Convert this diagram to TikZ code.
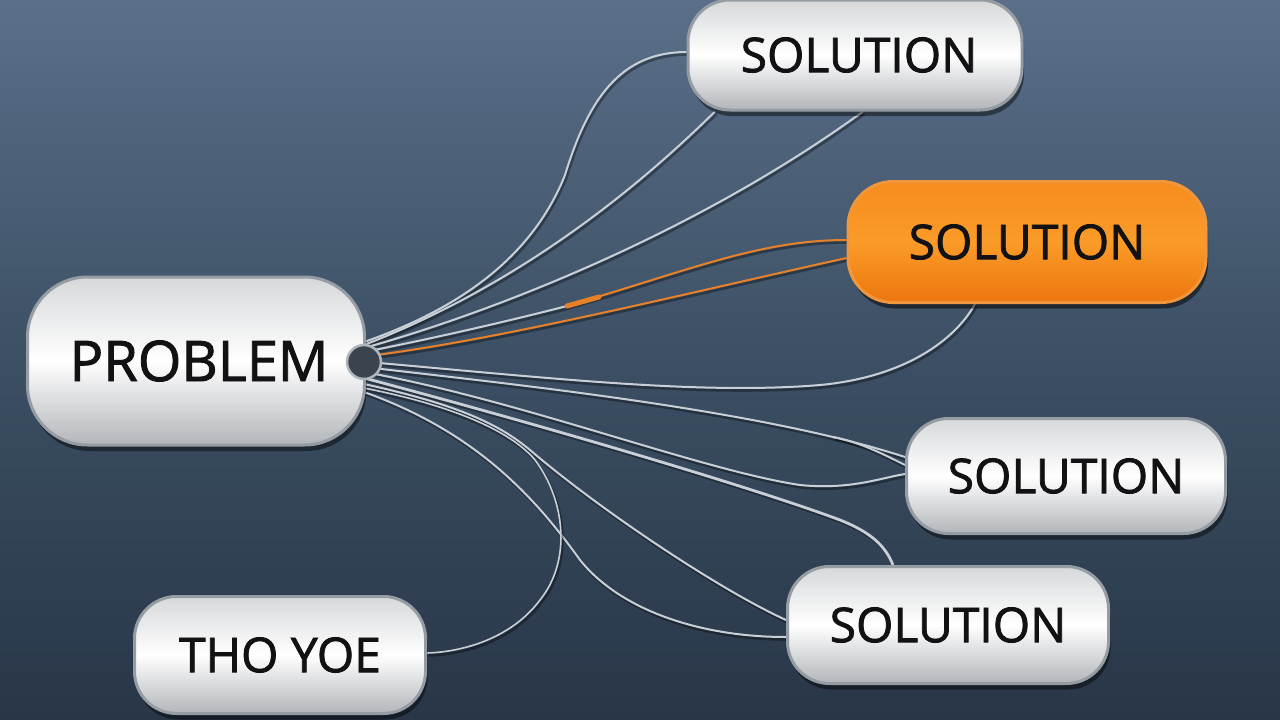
\documentclass[tikz,border=0pt]{standalone}
\usepackage{fontspec}
\setmainfont{Open Sans}[BoldFont=Open Sans, BoldFeatures={FakeBold=1.6}]
\usetikzlibrary{shadows,calc}
\definecolor{bgtop}{RGB}{90,112,137}
\definecolor{bgmid}{RGB}{60,79,100}
\definecolor{bgbot}{RGB}{40,54,71}
\definecolor{wirec}{RGB}{200,207,215}
\definecolor{orwirec}{RGB}{232,128,40}
\definecolor{silvtop}{RGB}{214,216,218}
\definecolor{silvbot}{RGB}{178,181,185}
\definecolor{silvedge}{RGB}{150,156,163}
\definecolor{ortop}{RGB}{246,140,30}
\definecolor{ormid}{RGB}{250,155,40}
\definecolor{orbot}{RGB}{236,118,14}
\definecolor{oredge}{RGB}{240,150,60}
\definecolor{inkc}{RGB}{18,18,20}
\definecolor{dotfill}{RGB}{58,67,78}
\definecolor{dotedge}{RGB}{176,182,188}
\pgfdeclarelayer{back}
\pgfdeclarelayer{wires}
\pgfsetlayers{back,wires,main}
\begin{document}
\begin{tikzpicture}[x=1pt,y=-1pt,
  silvertag/.style={draw=silvedge, line width=3pt, top color=silvtop, bottom color=silvbot, middle color=white,
    text=inkc, inner sep=0pt, rounded corners=#1,
    drop shadow={shadow xshift=2pt, shadow yshift=-6pt, opacity=0.45, fill=black}},
  orangetag/.style={draw=oredge, line width=3pt, top color=ortop, bottom color=orbot, middle color=ormid,
    text=inkc, inner sep=0pt, rounded corners=#1,
    drop shadow={shadow xshift=2pt, shadow yshift=-6pt, opacity=0.5, fill=black}},
  bigfont/.style={font=\fontsize{56}{56}\selectfont\bfseries},
  midfont/.style={font=\fontsize{48}{48}\selectfont\bfseries},
  wire/.style={draw=wirec, line width=2pt,
    preaction={draw=black, opacity=0.35, line width=2.6pt, transform canvas={xshift=1.5pt, yshift=-2.5pt}}},
  orwire/.style={draw=orwirec, line width=2pt,
    preaction={draw=black, opacity=0.35, line width=2.6pt, transform canvas={xshift=1.5pt, yshift=-2.5pt}}},
  dotnode/.style={circle, fill=dotfill, draw=dotedge, line width=2.5pt, minimum size=34pt, inner sep=0pt}
]
\useasboundingbox (0,0) rectangle (1280,720);
\begin{pgfonlayer}{back}
  \shade[top color=bgtop, bottom color=bgbot, middle color=bgmid] (0,0) rectangle (1280,720);
\end{pgfonlayer}

% nodes
\node[silvertag=60pt, bigfont, minimum width=337pt, minimum height=168pt] (prob) at (196,361) {\hspace*{6pt}PROBLEM};
\node[silvertag=42pt, midfont, minimum width=334pt, minimum height=110pt] (s1) at (855,55) {\hspace*{8pt}SOLUTION};
\node[orangetag=45pt, midfont, minimum width=358pt, minimum height=121pt] (s2) at (1027,242) {SOLUTION};
\node[silvertag=42pt, midfont, minimum width=319pt, minimum height=115pt] (s3) at (1066,476) {SOLUTION};
\node[silvertag=42pt, midfont, minimum width=321pt, minimum height=117pt] (s4) at (948,625) {SOLUTION};
\node[silvertag=42pt, midfont, minimum width=291pt, minimum height=117pt] (tho) at (280,655) {THO YOE};
\node[dotnode] (dot) at (364,362) {};

\coordinate (osplice) at (567,306);
\coordinate (stray) at (833,437);

\begin{pgfonlayer}{wires}
  % to top solution
  \draw[wire] ([yshift=20pt]dot.center) .. controls (470,305) and (535,250) .. (565,175)
      .. controls (588,100) and (620,52) .. ([yshift=3pt]s1.west);
  \draw[wire] ([yshift=17pt]dot.center) .. controls (480,300) and (600,225) .. ([xshift=-140pt]s1.south);
  \draw[wire] ([yshift=14pt]dot.center) .. controls (500,310) and (700,230) .. ([xshift=8pt]s1.south);
  % to orange solution
  \draw[wire] ([yshift=10pt]dot.center) .. controls (450,335) and (520,318) .. (osplice);
  \draw[orwire] (osplice) .. controls (690,270) and (760,240) .. ([yshift=2pt]s2.west);
  \draw[draw=orwirec, line width=5pt, line cap=round] (osplice) -- ++(32,-9);
  \draw[orwire] ([xshift=4pt,yshift=6pt]dot.center) .. controls (500,340) and (700,290) .. ([yshift=-16pt]s2.west);
  \draw[wire] ([xshift=4pt]dot.center) .. controls (550,378) and (700,395) .. (820,385)
      .. controls (905,377) and (955,340) .. ([xshift=-52pt]s2.south);
  % to middle right solution
  \draw[wire] ([yshift=-5pt]dot.center) .. controls (520,385) and (760,410) .. ([yshift=19pt]s3.west);
  \draw[wire] (stray) .. controls (860,442) and (885,455) .. ([yshift=11pt]s3.west);
  \draw[wire] ([yshift=-10pt]dot.center) .. controls (520,400) and (700,470) .. (800,485)
      .. controls (850,490) and (880,478) .. ([yshift=2pt]s3.west);
  % to bottom solution
  \draw[wire, line width=2.8pt] ([yshift=-16pt]dot.center) .. controls (560,430) and (760,490) .. (840,520)
      .. controls (870,532) and (885,545) .. ([xshift=-55pt]s4.north);
  \draw[wire] ([yshift=-22pt]dot.center) .. controls (460,405) and (500,425) .. (530,450)
      .. controls (600,510) and (720,590) .. ([yshift=5pt]s4.west);
  \draw[wire] ([yshift=-30pt]dot.center) .. controls (470,430) and (530,490) .. (580,560)
      .. controls (620,610) and (700,637) .. ([yshift=-12pt]s4.west);
  % to THO YOE
  \draw[wire, line width=1.6pt] ([yshift=-26pt]dot.center) .. controls (450,405) and (510,430) .. (535,460)
      .. controls (565,500) and (572,560) .. (540,600)
      .. controls (510,640) and (460,652) .. ([yshift=2pt]tho.east);
\end{pgfonlayer}
\end{tikzpicture}
\end{document}
